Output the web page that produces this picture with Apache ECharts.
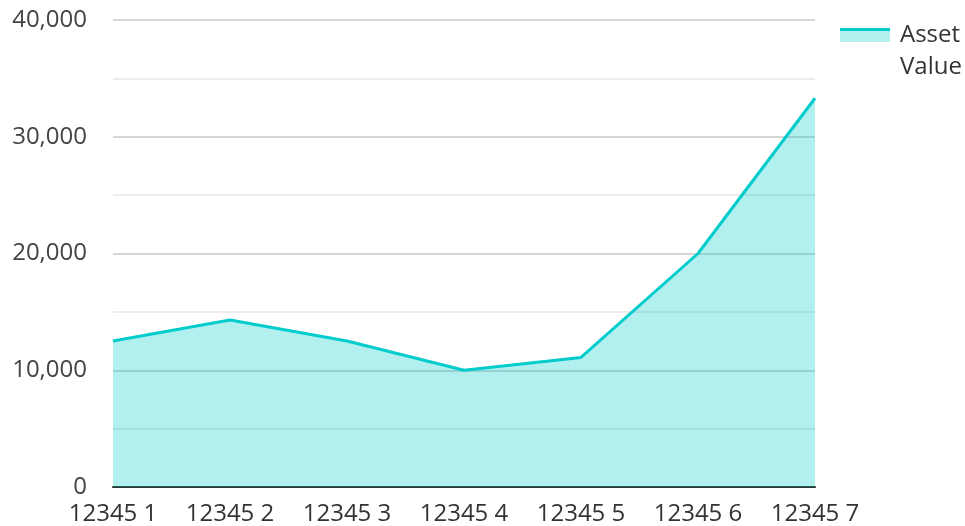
<!DOCTYPE html>
<html>
<head>
<meta charset="utf-8">
<script src="https://cdn.jsdelivr.net/npm/echarts@6/dist/echarts.min.js"></script>
<style>
  html, body { margin: 0; padding: 0; background: #fff; }
  #chart { width: 965px; height: 526px; }
</style>
</head>
<body>
<div id="chart"></div>
<script>
// data
const categories = ['12345 1', '12345 2', '12345 3', '12345 4', '12345 5', '12345 6', '12345 7'];
const assetValue = [12500, 14300, 12500, 10000, 11100, 20000, 33300];
const seriesName = 'Asset Value';

const teal = '#00cccc';
const tealFill = 'rgba(0, 204, 204, 0.3)';

// two stacked legends: light box + dark top band, same as the original key
// leading blank line keeps the icon level with the first word
const legendBase = {
  left: 835,
  orient: 'vertical',
  itemWidth: 50,
  formatter: name => '\n' + name.split(' ').map(w => '{t|' + w + '}').join('\n'),
  icon: 'rect'
};
const legendText = color => ({
  fontSize: 24, color: color, lineHeight: 32,
  rich: { t: { fontSize: 24, lineHeight: 32, color: color, padding: [0, 0, 0, 5] } }
});

document.addEventListener("DOMContentLoaded", () => {
  echarts.init(document.querySelector("#chart")).setOption({
    animation: false,
    textStyle: { fontFamily: 'Open Sans' },
    grid: { left: 113, right: 150, top: 20, bottom: 39 },
    legend: [
      Object.assign({}, legendBase, {
        top: -18,
        itemHeight: 14,
        itemStyle: { color: tealFill },
        textStyle: legendText('#333')
      }),
      Object.assign({}, legendBase, {
        top: -23.5,
        itemHeight: 3,
        itemStyle: { color: teal },
        textStyle: legendText('rgba(0,0,0,0)')
      })
    ],
    xAxis: {
      type: 'category',
      data: categories,
      boundaryGap: false,
      axisLine: { lineStyle: { color: '#333', width: 2 } },
      axisTick: { show: false },
      axisLabel: { fontSize: 24, color: '#333', margin: 15 }
    },
    yAxis: {
      type: 'value',
      min: 0,
      max: 40000,
      interval: 10000,
      axisLabel: { fontSize: 24, color: '#444', margin: 26 },
      splitLine: { lineStyle: { color: '#c8c8c8', width: 1.5 } },
      minorTick: { show: false, splitNumber: 2 },
      minorSplitLine: { show: true, lineStyle: { color: '#e6e6e6', width: 1.5 } }
    },
    series: [{
      name: seriesName,
      type: 'line',
      data: assetValue,
      symbol: 'none',
      lineStyle: { color: teal, width: 3 },
      itemStyle: { color: teal },
      areaStyle: { color: teal, opacity: 0.3 }
    }]
  });
});
</script>
</body>
</html>
